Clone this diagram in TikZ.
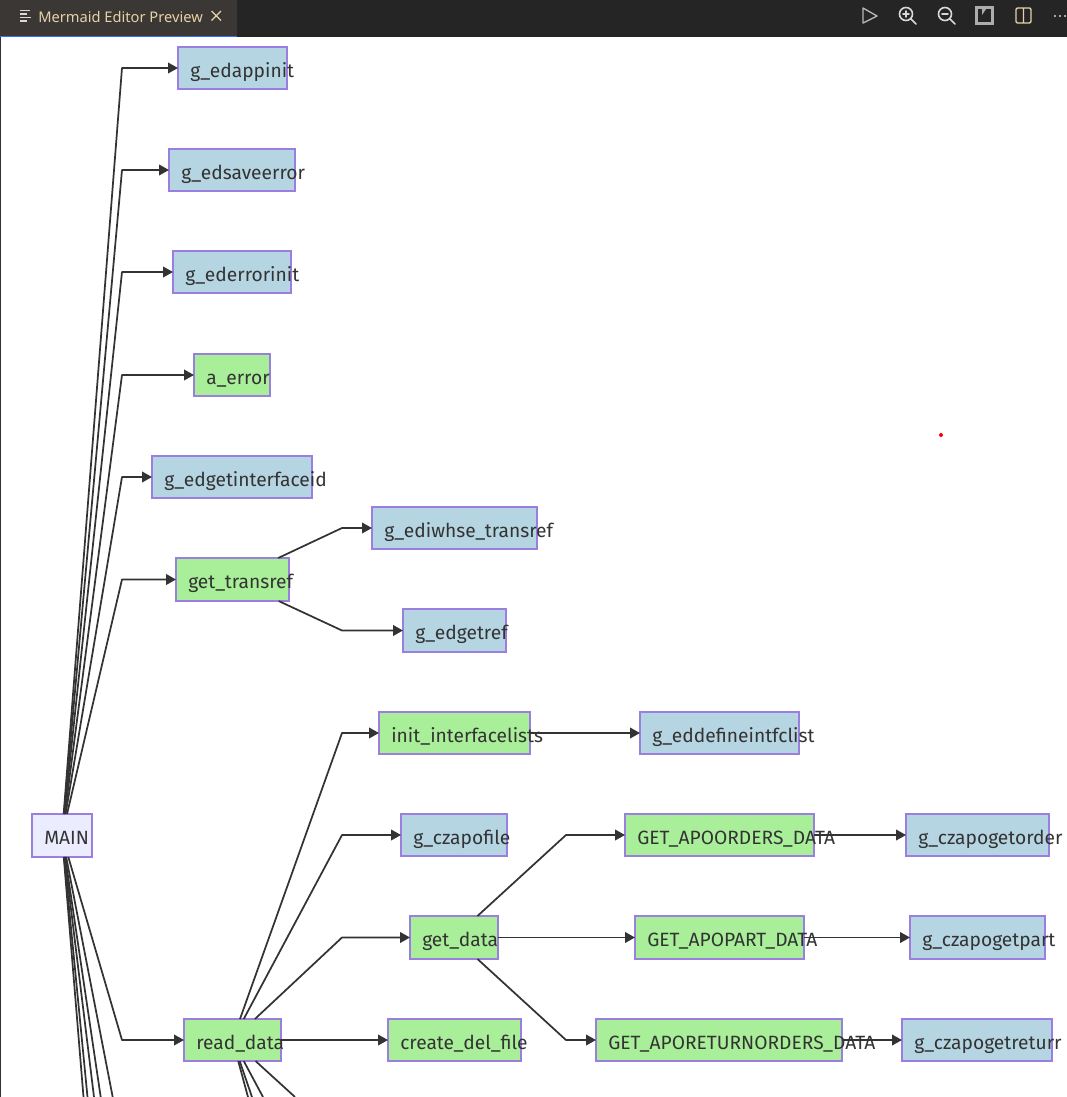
\documentclass[tikz,border=0pt]{standalone}
\usepackage{fontspec}
\setmainfont{Fira Sans}
\newfontfamily\uifont{Noto Sans}
\usetikzlibrary{arrows.meta,calc}
\definecolor{grn}{HTML}{A9EE98}
\definecolor{blu}{HTML}{B6D5E3}
\definecolor{pur}{HTML}{9A7FE0}
\definecolor{mn}{HTML}{ECECFF}
\definecolor{ink}{HTML}{333333}
\definecolor{barc}{HTML}{252526}
\definecolor{tabc}{HTML}{3B3734}
\definecolor{tabt}{HTML}{E6D2A8}
\definecolor{ic}{HTML}{D8D8D8}
\tikzset{
  boxbase/.style={draw=pur,line width=1.3pt,inner sep=0pt,outer sep=0pt,anchor=north west},
  gbox/.style={boxbase,fill=grn},
  bbox/.style={boxbase,fill=blu},
  mbox/.style={boxbase,fill=mn},
  lbl/.style={anchor=base west,inner sep=0pt,text=ink,font=\fontsize{14.4pt}{16pt}\selectfont},
  edge/.style={draw=ink,line width=1.3pt,line join=round,-{Triangle[length=7.5pt,width=8pt]}},
  plain/.style={draw=ink,line width=1.3pt},
  icon/.style={draw=ic,line width=1.2pt,line cap=round}
}
% name x0 y0 x1 y1 style
\newcommand{\bx}[6]{\node[#6,minimum width={(#4-#2)*0.75pt},minimum height={(#5-#3)*0.75pt}] (#1) at (#2,#3) {};}
% name text
\newcommand{\tx}[2]{\path let \p1=(#1.north west) in node[lbl] (#1-t) at ($(\p1)+(12,30.5)$) {#2};}
\begin{document}
\begin{tikzpicture}[x=0.75pt,y=-0.75pt]
\useasboundingbox (0,0) rectangle (1067,1097);
\fill[white] (0,0) rectangle (1067,1097);
\fill[ink] (0,37) rectangle (1,1097);
% title bar
\fill[barc] (0,0) rectangle (1067,37);
\fill[tabc] (0,0) rectangle (237,36);
\fill[blue!70!cyan!80!white] (0,36) rectangle (237,37);
\foreach \yy/\xe in {10.5/30,14/27,17.5/31,21/27}{\draw[draw=ic,line width=1pt] (20,\yy) -- (\xe,\yy);}
\node[anchor=base west,inner sep=0pt,text=tabt,font=\uifont\fontsize{11pt}{12pt}\selectfont] (tab) at (38,22) {Mermaid Editor Preview};
\draw[draw=tabt,line width=1pt] (211.5,11) -- (221,20.5) (221,11) -- (211.5,20.5);
% toolbar icons
\draw[draw=ic!85!black,line width=1pt,line join=round] (863,8) -- (877,16) -- (863,23) -- cycle;
\draw[icon] (906,14) circle (6.5) (911,19) -- (916,24) (903,14) -- (909,14) (906,11) -- (906,17);
\draw[icon] (945,14) circle (6.5) (950,19) -- (955,24) (942,14) -- (948,14);
\fill[ic!80!black] (975,6) rectangle (994,25);
\fill[barc] (978,9) rectangle (991,22);
\fill[ic!80!black] (982,9) -- (986,9) -- (982,15) -- cycle;
\draw[draw=tabt,line width=1pt,rounded corners=1pt] (1016,8) rectangle (1031,23) (1023.5,8) -- (1023.5,23);
\foreach \xx in {1055,1060,1065}{\fill[tabt] (\xx,16) circle (1.2);}
\fill[red] (941,435) circle (2);
% boxes
\bx{main}{32}{814}{92}{857}{mbox}
\bx{appinit}{178}{47}{287}{89}{bbox}
\bx{saveerr}{169}{149}{295}{191}{bbox}
\bx{errinit}{173}{251}{291}{293}{bbox}
\bx{aerror}{194}{354}{270}{396}{gbox}
\bx{ifaceid}{152}{456}{312}{498}{bbox}
\bx{transref}{176}{558}{289}{601}{gbox}
\bx{whse}{372}{507}{537}{549}{bbox}
\bx{getref}{403}{609}{506}{652}{bbox}
\bx{initif}{379}{712}{530}{754}{gbox}
\bx{defintf}{640}{712}{799}{754}{bbox}
\bx{czfile}{401}{814}{507}{856}{bbox}
\bx{orders}{625}{814}{814}{856}{gbox}
\bx{getorder}{906}{814}{1049}{856}{bbox}
\bx{getdata}{410}{916}{498}{959}{gbox}
\bx{part}{635}{916}{804}{959}{gbox}
\bx{getpart}{910}{916}{1045}{959}{bbox}
\bx{readdata}{184}{1019}{281}{1061}{gbox}
\bx{delfile}{388}{1019}{521}{1061}{gbox}
\bx{retord}{596}{1019}{842}{1061}{gbox}
\bx{getret}{902}{1019}{1052}{1061}{bbox}
% bends and free ends
\coordinate (m1) at (122,68);
\coordinate (m2) at (122,170);
\coordinate (m3) at (122,272);
\coordinate (m4) at (122,375);
\coordinate (m5) at (122,477);
\coordinate (m6) at (122,579.5);
\coordinate (m7) at (122,1040);
\coordinate (t1) at (342,528);
\coordinate (t2) at (342,630.5);
\coordinate (r1) at (342,733);
\coordinate (r2) at (342,835);
\coordinate (r3) at (342,937.5);
\coordinate (g1) at (566,835);
\coordinate (g3) at (566,1040);
\coordinate (e1) at (83.5,1097);
\coordinate (e2) at (87.5,1097);
\coordinate (e3) at (94,1097);
\coordinate (e4) at (100.7,1097);
\coordinate (e5) at (112.7,1097);
\coordinate (f1) at (248,1097);
\coordinate (f2) at (252,1097);
\coordinate (f3) at (263,1097);
\coordinate (f4) at (295,1097);
% edges
\draw[edge] (main) -- (m1) -- (appinit);
\draw[edge] (main) -- (m2) -- (saveerr);
\draw[edge] (main) -- (m3) -- (errinit);
\draw[edge] (main) -- (m4) -- (aerror);
\draw[edge] (main) -- (m5) -- (ifaceid);
\draw[edge] (main) -- (m6) -- (transref);
\draw[edge] (main) -- (m7) -- (readdata);
\foreach \e in {e1,e2,e3,e4,e5}{\draw[plain] (main) -- (\e);}
\draw[edge] (transref) -- (t1) -- (whse);
\draw[edge] (transref) -- (t2) -- (getref);
\draw[edge] (readdata) -- (r1) -- (initif);
\draw[edge] (readdata) -- (r2) -- (czfile);
\draw[edge] (readdata) -- (r3) -- (getdata);
\draw[edge] (readdata) -- (delfile);
\foreach \e in {f1,f2,f3,f4}{\draw[plain] (readdata) -- (\e);}
\draw[edge] (initif) -- (defintf);
\draw[edge] (getdata) -- (g1) -- (orders);
\draw[edge] (getdata) -- (part);
\draw[edge] (getdata) -- (g3) -- (retord);
\draw[edge] (orders) -- (getorder);
\draw[edge] (part) -- (getpart);
\draw[edge] (retord) -- (getret);
% texts
\tx{main}{MAIN}
\tx{appinit}{g\_edappinit}
\tx{saveerr}{g\_edsaveerror}
\tx{errinit}{g\_ederrorinit}
\tx{aerror}{a\_error}
\tx{ifaceid}{g\_edgetinterfaceid}
\tx{transref}{get\_transref}
\tx{whse}{g\_ediwhse\_transref}
\tx{getref}{g\_edgetref}
\tx{initif}{init\_interfacelists}
\tx{defintf}{g\_eddefineintfclist}
\tx{czfile}{g\_czapofile}
\tx{orders}{GET\_APOORDERS\_DATA}
\tx{getorder}{g\_czapogetorder}
\tx{getdata}{get\_data}
\tx{part}{GET\_APOPART\_DATA}
\tx{getpart}{g\_czapogetpart}
\tx{readdata}{read\_data}
\tx{delfile}{create\_del\_file}
\tx{retord}{GET\_APORETURNORDERS\_DATA}
\tx{getret}{g\_czapogetreturr}
\end{tikzpicture}
\end{document}
